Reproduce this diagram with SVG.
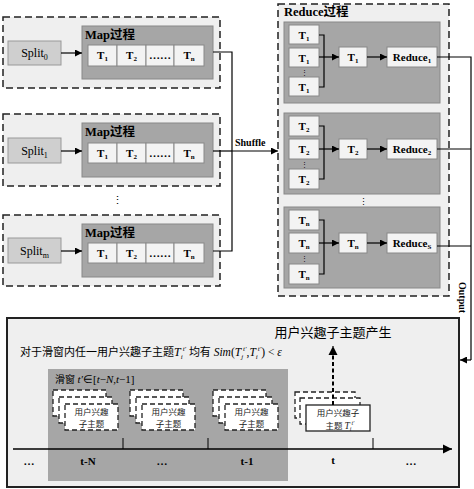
<svg xmlns="http://www.w3.org/2000/svg" width="474" height="489" viewBox="0 0 474 489">
<defs>
<marker id="ah" viewBox="0 0 10 10" refX="10" refY="5" markerWidth="7" markerHeight="7" orient="auto" markerUnits="userSpaceOnUse"><path d="M0,0 L10,5 L0,10 z" fill="#000"/></marker>
<marker id="ahb" viewBox="0 0 10 10" refX="10" refY="5" markerWidth="9" markerHeight="10" orient="auto" markerUnits="userSpaceOnUse"><path d="M0,0 L10,5 L0,10 z" fill="#000"/></marker>
</defs>
<style>
text{font-family:"Liberation Serif","Noto Sans CJK SC",serif;fill:#000}
.outer{fill:#efefef;stroke:#222;stroke-width:1.5;stroke-dasharray:7,4}
.dark{fill:#a6a6a6;stroke:#888;stroke-width:1}
.cell{fill:#f3f3f3;stroke:#888;stroke-width:1}
.split{fill:#cfcfcf;stroke:#999;stroke-width:1}
.b{font-weight:bold}
.t{font-size:11px;font-weight:bold;text-anchor:middle}
.ln{fill:none;stroke:#000;stroke-width:1.2}
.dsh{fill:#fff;stroke:#222;stroke-width:1.3;stroke-dasharray:5,3}
.sol{fill:#fff;stroke:#222;stroke-width:1.3}
.cj{font-family:"Noto Sans CJK SC",sans-serif;font-size:8.5px;text-anchor:middle;fill:#222}
</style>

<g id="map0">
<rect class="outer" x="3" y="17" width="217" height="71"/>
<rect class="split" x="8" y="41" width="53" height="24"/>
<text x="34.5" y="57" font-size="12" text-anchor="middle">Split<tspan font-size="8" dy="3">0</tspan></text>
<rect class="dark" x="82" y="26" width="131" height="53"/>
<text x="85" y="39" font-size="12.5" class="b">Map过程</text>
<rect class="cell" x="88" y="45" width="29" height="21"/><rect class="cell" x="117" y="45" width="29" height="21"/><rect class="cell" x="146" y="45" width="28" height="21"/><rect class="cell" x="174" y="45" width="30" height="21"/>
<text class="t" x="102.5" y="59">T<tspan font-size="7" dy="2">1</tspan></text>
<text class="t" x="131.5" y="59">T<tspan font-size="7" dy="2">2</tspan></text>
<text class="t" x="160" y="59" fill="#333" font-weight="normal">……</text>
<text class="t" x="189" y="59">T<tspan font-size="7" dy="2">n</tspan></text>
</g>

<g id="map1">
<rect class="outer" x="3" y="114" width="217" height="72"/>
<rect class="split" x="8" y="138" width="53" height="25"/>
<text x="34.5" y="155" font-size="12" text-anchor="middle">Split<tspan font-size="8" dy="3">1</tspan></text>
<rect class="dark" x="82" y="123" width="131" height="54"/>
<text x="85" y="136" font-size="12.5" class="b">Map过程</text>
<rect class="cell" x="88" y="143" width="29" height="20"/><rect class="cell" x="117" y="143" width="29" height="20"/><rect class="cell" x="146" y="143" width="28" height="20"/><rect class="cell" x="174" y="143" width="30" height="20"/>
<text class="t" x="102.5" y="157">T<tspan font-size="7" dy="2">1</tspan></text>
<text class="t" x="131.5" y="157">T<tspan font-size="7" dy="2">2</tspan></text>
<text class="t" x="160" y="157" fill="#333" font-weight="normal">……</text>
<text class="t" x="189" y="157">T<tspan font-size="7" dy="2">n</tspan></text>
</g>

<text x="117" y="204" font-size="11" text-anchor="middle">⋮</text>

<g id="mapm">
<rect class="outer" x="3" y="215" width="217" height="71"/>
<rect class="split" x="8" y="238" width="53" height="25"/>
<text x="34.5" y="255" font-size="12" text-anchor="middle">Split<tspan font-size="8" dy="3">m</tspan></text>
<rect class="dark" x="82" y="224" width="131" height="53"/>
<text x="85" y="237" font-size="12.5" class="b">Map过程</text>
<rect class="cell" x="88" y="243" width="29" height="20"/><rect class="cell" x="117" y="243" width="29" height="20"/><rect class="cell" x="146" y="243" width="28" height="20"/><rect class="cell" x="174" y="243" width="30" height="20"/>
<text class="t" x="102.5" y="257">T<tspan font-size="7" dy="2">1</tspan></text>
<text class="t" x="131.5" y="257">T<tspan font-size="7" dy="2">2</tspan></text>
<text class="t" x="160" y="257" fill="#333" font-weight="normal">……</text>
<text class="t" x="189" y="257">T<tspan font-size="7" dy="2">n</tspan></text>
</g>

<g id="reduce">
<rect class="outer" x="278" y="4" width="171" height="292"/>
<text x="284" y="16" font-size="12.5" class="b">Reduce过程</text>
</g>

<g id="reduce1">
<rect class="dark" x="284" y="22" width="156" height="81"/>
<rect class="cell" x="289" y="25" width="30" height="19"/><rect class="cell" x="289" y="48" width="30" height="19"/><rect class="cell" x="289" y="77" width="30" height="19"/>
<text class="t" x="304" y="39">T<tspan font-size="7" dy="2">1</tspan></text>
<text class="t" x="304" y="62">T<tspan font-size="7" dy="2">1</tspan></text>
<text x="304" y="75" font-size="7" text-anchor="middle">⋮</text>
<text class="t" x="304" y="91">T<tspan font-size="7" dy="2">1</tspan></text>
<rect class="cell" x="339" y="47" width="28" height="20"/>
<text class="t" x="353" y="61">T<tspan font-size="7" dy="2">1</tspan></text>
<rect class="cell" x="387" y="47" width="50" height="20"/>
<text class="t" x="412" y="61">Reduce<tspan font-size="7" dy="2">1</tspan></text>
</g>

<g id="reduce2">
<rect class="dark" x="284" y="113" width="156" height="81"/>
<rect class="cell" x="289" y="116" width="30" height="20"/><rect class="cell" x="289" y="139" width="30" height="20"/><rect class="cell" x="289" y="169" width="30" height="20"/>
<text class="t" x="304" y="130">T<tspan font-size="7" dy="2">2</tspan></text>
<text class="t" x="304" y="153">T<tspan font-size="7" dy="2">2</tspan></text>
<text x="304" y="167" font-size="7" text-anchor="middle">⋮</text>
<text class="t" x="304" y="183">T<tspan font-size="7" dy="2">2</tspan></text>
<rect class="cell" x="339" y="139" width="28" height="20"/>
<text class="t" x="353" y="153">T<tspan font-size="7" dy="2">2</tspan></text>
<rect class="cell" x="387" y="139" width="50" height="20"/>
<text class="t" x="412" y="153">Reduce<tspan font-size="7" dy="2">2</tspan></text>
</g>

<text x="363" y="205" font-size="9" text-anchor="middle">⋮</text>

<g id="reduces">
<rect class="dark" x="284" y="207" width="156" height="81"/>
<rect class="cell" x="289" y="210" width="30" height="20"/><rect class="cell" x="289" y="233" width="30" height="20"/><rect class="cell" x="289" y="264" width="30" height="20"/>
<text class="t" x="304" y="224">T<tspan font-size="7" dy="2">n</tspan></text>
<text class="t" x="304" y="247">T<tspan font-size="7" dy="2">n</tspan></text>
<text x="304" y="261" font-size="7" text-anchor="middle">⋮</text>
<text class="t" x="304" y="278">T<tspan font-size="7" dy="2">n</tspan></text>
<rect class="cell" x="339" y="233" width="28" height="20"/>
<text class="t" x="353" y="247">T<tspan font-size="7" dy="2">n</tspan></text>
<rect class="cell" x="387" y="233" width="50" height="20"/>
<text class="t" x="412" y="247">Reduce<tspan font-size="7" dy="2">S</tspan></text>
</g>

<g id="bottom">
<rect x="7" y="318" width="452" height="169" fill="#efefef" stroke="#222" stroke-width="2"/>
<text x="333" y="337" font-size="13" text-anchor="middle" font-family="Noto Sans CJK SC, sans-serif">用户兴趣子主题产生</text>
<text x="20" y="356" font-size="11" font-family="Noto Sans CJK SC, sans-serif">对于滑窗内任一用户兴趣子主题<tspan font-family="Liberation Serif" font-style="italic" font-size="12">T</tspan><tspan font-family="Liberation Serif" font-style="italic" font-size="7" dy="3">i</tspan><tspan font-family="Liberation Serif" font-style="italic" font-size="7" dy="-8">t′</tspan><tspan dy="5"> 均有 </tspan><tspan font-family="Liberation Serif" font-style="italic" font-size="11.5">Sim</tspan><tspan font-family="Liberation Serif" font-size="11.5">(</tspan><tspan font-family="Liberation Serif" font-style="italic" font-size="11.5">T</tspan><tspan font-family="Liberation Serif" font-style="italic" font-size="7" dy="3">j</tspan><tspan font-family="Liberation Serif" font-style="italic" font-size="7" dy="-8">t′</tspan><tspan font-family="Liberation Serif" font-size="11.5" dy="5">,</tspan><tspan font-family="Liberation Serif" font-style="italic" font-size="11.5">T</tspan><tspan font-family="Liberation Serif" font-style="italic" font-size="7" dy="3">i</tspan><tspan font-family="Liberation Serif" font-style="italic" font-size="7" dy="-8">t′</tspan><tspan font-family="Liberation Serif" font-size="11.5" dy="5">) &lt; </tspan><tspan font-family="Liberation Serif" font-style="italic" font-size="11.5">ε</tspan></text>
<rect x="48" y="369" width="240" height="112" fill="#a6a6a6"/>
<text x="55" y="383" font-size="10" font-family="Noto Sans CJK SC, sans-serif">滑窗  <tspan font-family="Liberation Serif" font-style="italic" font-size="11">t′</tspan><tspan font-family="Liberation Serif" font-size="11">∈[</tspan><tspan font-family="Liberation Serif" font-style="italic" font-size="11">t</tspan><tspan font-family="Liberation Serif" font-size="11">−</tspan><tspan font-family="Liberation Serif" font-style="italic" font-size="11">N</tspan><tspan font-family="Liberation Serif" font-size="11">,</tspan><tspan font-family="Liberation Serif" font-style="italic" font-size="11">t</tspan><tspan font-family="Liberation Serif" font-size="11">−1]</tspan></text>
</g>

<g id="stack1">
<rect class="dsh" x="53" y="390" width="53" height="26"/>
<rect class="dsh" x="59" y="397" width="53" height="26"/>
<rect class="dsh" x="65" y="404" width="53" height="26"/>
<text class="cj" x="91.5" y="415">用户兴趣</text>
<text class="cj" x="91.5" y="427">子主题</text>
</g>
<g id="stack2">
<rect class="dsh" x="130" y="390" width="53" height="26"/>
<rect class="dsh" x="136" y="397" width="53" height="26"/>
<rect class="dsh" x="142" y="404" width="53" height="26"/>
<text class="cj" x="168.5" y="415">用户兴趣</text>
<text class="cj" x="168.5" y="427">子主题</text>
</g>
<g id="stack3">
<rect class="dsh" x="213" y="390" width="53" height="26"/>
<rect class="dsh" x="219" y="397" width="53" height="26"/>
<rect class="dsh" x="225" y="404" width="53" height="26"/>
<text class="cj" x="251.5" y="415">用户兴趣</text>
<text class="cj" x="251.5" y="427">子主题</text>
</g>
<g id="stack4">
<rect class="dsh" x="295" y="392" width="60" height="26"/>
<rect class="dsh" x="300" y="398" width="60" height="26"/>
<rect class="sol" x="306" y="405" width="64" height="26"/>
<text class="cj" x="338" y="416">用户兴趣子</text>
<text class="cj" x="340" y="428.5">主题 <tspan font-family="Liberation Serif" font-style="italic" font-size="9.5">T</tspan><tspan font-family="Liberation Serif" font-style="italic" font-size="6" dy="2">i</tspan><tspan font-family="Liberation Serif" font-style="italic" font-size="6" dy="-6">t′</tspan></text>
</g>

<g id="timeline">
<line x1="13" y1="449" x2="452" y2="449" stroke="#000" stroke-width="1.3" marker-end="url(#ahb)"/>
<line x1="123" y1="438" x2="123" y2="449" stroke="#000" stroke-width="1"/>
<line x1="208" y1="438" x2="208" y2="449" stroke="#000" stroke-width="1"/>
<line x1="373" y1="438" x2="373" y2="449" stroke="#000" stroke-width="1"/>
<text class="t" x="29" y="465">…</text>
<text class="t" x="88" y="465">t-N</text>
<text class="t" x="162" y="465">…</text>
<text class="t" x="247" y="465">t-1</text>
<text class="t" x="333" y="464">t</text>
<text class="t" x="411" y="465">…</text>
</g>

<g id="connectors">
<line class="ln" x1="61" y1="53" x2="82" y2="53" marker-end="url(#ah)"/>
<line class="ln" x1="61" y1="151" x2="82" y2="151" marker-end="url(#ah)"/>
<line class="ln" x1="61" y1="251" x2="82" y2="251" marker-end="url(#ah)"/>
<polyline class="ln" points="213,52 232,52 232,251 213,251"/>
<line class="ln" x1="213" y1="151" x2="232" y2="151"/>
<line class="ln" x1="232" y1="151" x2="278" y2="151" marker-end="url(#ah)"/>
<text x="235" y="146" font-size="10" class="b">Shuffle</text>
<polyline class="ln" points="319,35 324,35 324,87 319,87"/>
<line class="ln" x1="319" y1="57" x2="339" y2="57" marker-end="url(#ah)"/>
<line class="ln" x1="367" y1="57" x2="387" y2="57" marker-end="url(#ah)"/>
<polyline class="ln" points="319,126 324,126 324,179 319,179"/>
<line class="ln" x1="319" y1="149" x2="339" y2="149" marker-end="url(#ah)"/>
<line class="ln" x1="367" y1="149" x2="387" y2="149" marker-end="url(#ah)"/>
<polyline class="ln" points="319,220 324,220 324,274 319,274"/>
<line class="ln" x1="319" y1="243" x2="339" y2="243" marker-end="url(#ah)"/>
<line class="ln" x1="367" y1="243" x2="387" y2="243" marker-end="url(#ah)"/>
<polyline class="ln" points="437,57 471,57 471,360"/>
<line class="ln" x1="437" y1="149" x2="471" y2="149"/>
<line class="ln" x1="437" y1="246" x2="471" y2="246"/>
<line class="ln" x1="471" y1="360" x2="460" y2="360" marker-end="url(#ah)"/>
<text x="0" y="0" font-size="10" class="b" transform="translate(459,282) rotate(90)">Output</text>
<line x1="333" y1="405" x2="333" y2="346" stroke="#000" stroke-width="2" stroke-dasharray="4,2.5" marker-end="url(#ahb)"/>
</g>
</svg>
